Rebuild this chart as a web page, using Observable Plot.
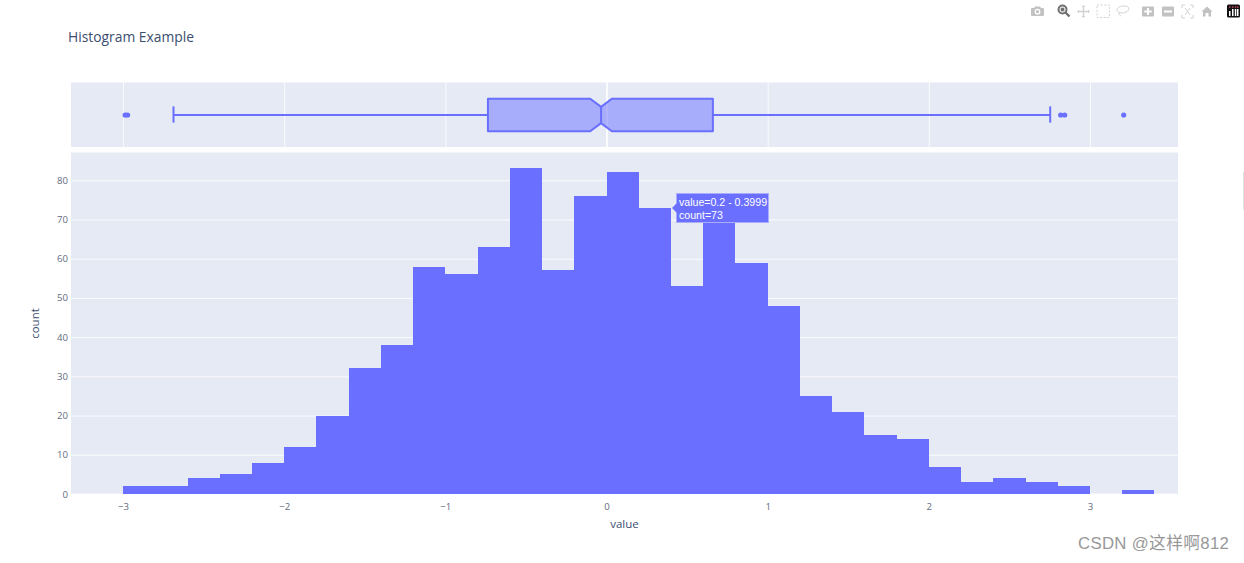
<!DOCTYPE html>
<html>
<head>
<meta charset="utf-8">
<script src="https://cdn.jsdelivr.net/npm/d3@7"></script>
<script src="https://cdn.jsdelivr.net/npm/@observablehq/plot@0.6"></script>
<style>
html,body{margin:0;padding:0;background:#fff;}
#root{position:relative;width:1244px;height:563px;overflow:hidden;font-family:"Open Sans",sans-serif;}
.title{position:absolute;left:68px;top:27px;font-size:13.85px;line-height:20px;color:#3b4e70;}
.tip{position:absolute;box-sizing:border-box;background:#6a6fff;border:1px solid #a9acff;color:#fff;font-family:"Liberation Sans",Arial,sans-serif;font-size:10.6px;line-height:13px;padding:1.5px 0 0 2px;width:93px;height:30px;white-space:pre;}
.tip:before{content:"";position:absolute;left:-5px;top:9px;border-style:solid;border-width:5px 5px 5px 0;border-color:transparent #6a6fff transparent transparent;}
.wm{position:absolute;left:1078px;top:533px;font-family:"Liberation Sans","Noto Sans CJK SC",sans-serif;font-size:16.8px;line-height:22px;color:#989898;letter-spacing:.3px;text-shadow:0 0 2px #fff;white-space:pre;}
.edge{position:absolute;left:1243px;top:172px;width:1px;height:38px;background:#e2e2e2;}
.mb{position:absolute;left:1025px;top:0;}
</style>
</head>
<body>
<div id="root"></div>
<script>
// --- data ---
const binStarts = [-3,-2.8,-2.6,-2.4,-2.2,-2,-1.8,-1.6,-1.4,-1.2,-1,-0.8,-0.6,-0.4,-0.2,0,0.2,0.4,0.6,0.8,1,1.2,1.4,1.6,1.8,2,2.2,2.4,2.6,2.8,3,3.2];
const binCounts = [2,2,4,5,8,12,20,32,38,58,56,63,83,57,76,82,73,53,74,59,48,25,21,15,14,7,3,4,3,2,0,1];
const binWidth = 0.2;
const xDomain = [-3.326, 3.543];
const yDomain = [0, 87.2];
const xTicks = [-3,-2,-1,0,1,2,3];
const yTicks = [0,10,20,30,40,50,60,70,80];
const boxQ1 = -0.739, boxMedian = -0.037, boxQ3 = 0.657;
const notchHalf = 0.067;
const whiskerLow = -2.69, whiskerHigh = 2.75;
const outliers = [-2.99,-2.975,2.815,2.84,3.206];
const boxRow = 0, boxHalf = 0.25, notchBand = 0.125, capHalf = 0.125;
const hoverBin = 0.2, hoverLabel = "value=0.2 - 0.3999\ncount=73";

const blue = "#6a6fff", panel = "#e5eaf5", font = '"Open Sans",sans-serif', tickColor = "#626c7e";
const W = 1244, marginL = 70.5, marginR = 66.5;
const root = document.getElementById("root");

// notched box outline
const outline = [
  [boxQ1, boxRow-boxHalf],[boxMedian-notchHalf, boxRow-boxHalf],[boxMedian, boxRow-notchBand],[boxMedian+notchHalf, boxRow-boxHalf],
  [boxQ3, boxRow-boxHalf],[boxQ3, boxRow+boxHalf],[boxMedian+notchHalf, boxRow+boxHalf],[boxMedian, boxRow+notchBand],
  [boxMedian-notchHalf, boxRow+boxHalf],[boxQ1, boxRow+boxHalf],[boxQ1, boxRow-boxHalf]
];

const boxPlot = Plot.plot({
  width: W, height: 65, marginTop: 0, marginBottom: 0, marginLeft: marginL, marginRight: marginR,
  style: {fontFamily: font, background: "transparent"},
  x: {domain: xDomain, axis: null},
  y: {domain: [-0.5, 0.5], axis: null},
  marks: [
    Plot.frame({fill: panel, stroke: "none"}),
    Plot.ruleX(xTicks, {stroke: "#fff", strokeOpacity: 0.8, strokeWidth: d => d === 0 ? 2 : 1}),
    Plot.ruleY([boxRow], {x1: whiskerLow, x2: boxQ1, stroke: blue, strokeWidth: 2}),
    Plot.ruleY([boxRow], {x1: boxQ3, x2: whiskerHigh, stroke: blue, strokeWidth: 2}),
    Plot.ruleX([whiskerLow, whiskerHigh], {y1: boxRow-capHalf, y2: boxRow+capHalf, stroke: blue, strokeWidth: 2}),
    Plot.line(outline, {x: d => d[0], y: d => d[1], fill: blue, fillOpacity: 0.5, stroke: blue, strokeWidth: 2, curve: "linear"}),
    Plot.ruleX([boxMedian], {y1: boxRow-notchBand, y2: boxRow+notchBand, stroke: blue, strokeWidth: 2}),
    Plot.dot(outliers, {x: d => d, y: boxRow, r: 2.6, fill: blue, stroke: "none"})
  ]
});
boxPlot.style.position = "absolute"; boxPlot.style.left = "0"; boxPlot.style.top = "82px";
root.appendChild(boxPlot);

const hist = binStarts.map((s, i) => ({x1: s, x2: s + binWidth, count: binCounts[i]}));
const main = Plot.plot({
  width: W, height: 411, marginTop: 0, marginBottom: 69, marginLeft: marginL, marginRight: marginR,
  style: {fontFamily: font, background: "transparent"},
  x: {domain: xDomain},
  y: {domain: yDomain},
  marks: [
    Plot.frame({fill: panel, stroke: "none"}),
    Plot.ruleY(yTicks, {stroke: "#fff", strokeOpacity: 0.8, strokeWidth: d => d === 0 ? 2 : 1}),
    Plot.rectY(hist, {x1: "x1", x2: "x2", y1: 0, y2: "count", fill: blue, inset: 0, shapeRendering: "crispEdges"}),
    Plot.axisX({ticks: xTicks, tickFormat: d3.format("d"), tickSize: 0, tickPadding: 9, fontSize: 9.6, color: tickColor, label: "value", labelAnchor: "center", labelArrow: "none", labelOffset: 33}),
    Plot.axisY({ticks: yTicks, tickSize: 0, tickPadding: 3, fontSize: 9.6, color: tickColor, label: "count", labelAnchor: "center", labelArrow: "none", labelOffset: 40})
  ]
});
main.style.position = "absolute"; main.style.left = "0"; main.style.top = "152px";
root.appendChild(main);

// axis titles are larger than the tick labels
main.querySelectorAll("text").forEach(t => {
  if (t.textContent === "value" || t.textContent === "count") { t.setAttribute("font-size", "11.5"); t.setAttribute("fill", "#3b4e70"); }
});

// title
const title = document.createElement("div");
title.className = "title"; title.textContent = "Histogram Example";
root.appendChild(title);

// hover label anchored to the hovered bin through the scales
const sx = main.scale("x"), sy = main.scale("y");
const hb = hist.find(d => d.x1 === hoverBin);
const tip = document.createElement("div");
tip.className = "tip"; tip.textContent = hoverLabel;
tip.style.left = (sx.apply(hb.x2) + 5) + "px";
tip.style.top = (152 + sy.apply(hb.count) - 14.5) + "px";
root.appendChild(tip);

// watermark
const wm = document.createElement("div");
wm.className = "wm"; wm.textContent = "CSDN @这样啊812";
root.appendChild(wm);
const edge = document.createElement("div"); edge.className = "edge"; root.appendChild(edge);

// modebar
const g = "#c2c2c2", gl = "#d2d2d2";
const mb = document.createElement("div"); mb.className = "mb";
mb.innerHTML = `<svg width="219" height="24" viewBox="0 0 219 24">
<g fill="${g}" stroke="none">
<path d="M7 8h2l1-1.500h5l1 1.500h2a1 1 0 0 1 1 1v6a1 1 0 0 1-1 1H7a1 1 0 0 1-1-1V9a1 1 0 0 1 1-1z M12.500 8.800a2.900 2.900 0 1 0 0 5.800a2.900 2.900 0 1 0 0-5.800z" fill-rule="evenodd"/>
<circle cx="12.500" cy="11.700" r="1.600"/>
<path d="M118 6.500h10a1 1 0 0 1 1 1v8a1 1 0 0 1-1 1h-10a1 1 0 0 1-1-1v-8a1 1 0 0 1 1-1z M122 8v2.500h-2.700v2H122v2.500h2v-2.500h2.700v-2H124V8z" fill-rule="evenodd"/>
<path d="M138 6.500h10a1 1 0 0 1 1 1v8a1 1 0 0 1-1 1h-10a1 1 0 0 1-1-1v-8a1 1 0 0 1 1-1z M139 10.500v2h8v-2z" fill-rule="evenodd"/>
<path d="M182 6.500l5.500 5h-1.500v5h-2.500v-3.500h-3v3.500H178v-5h-1.500z"/>
</g>
<g fill="${gl}" stroke="none">
<path d="M58.500 5l2 2h-1.300v3.800H63V9.500l2 2l-2 2v-1.300h-3.800V16h1.300l-2 2l-2-2h1.300v-3.800H54v1.300l-2-2l2-2v1.300h3.800V7h-1.300z"/>
</g>
<g fill="none" stroke="#707070" stroke-width="2">
<circle cx="37.500" cy="9.500" r="4"/>
<path d="M40.500 12.500l4 4" stroke-width="2.400"/>
</g>
<rect x="35.700" y="7.700" width="3.600" height="3.600" fill="#707070"/>
<g fill="none" stroke="${gl}" stroke-width="1">
<rect x="72" y="5" width="12.500" height="12.500" stroke-dasharray="2 1.600"/>
<path d="M92 10c0-2.500 3.500-4 7-4s5 1.300 5 3s-3.200 4-7 4c-1 0-2 0-2.500-.5c-1.500-.5-2.500-1.500-2.500-2.500zM94.500 12.500c-1 1.500 0 3 1.500 3.500"/>
<path d="M157 8V5h3M165 5h3v3M168 15v3h-3M160 18h-3v-3M160 8l5 7M165 8l-5 7"/>
</g>
<rect x="202" y="4.500" width="13" height="13" rx="1.500" fill="#111"/>
<g fill="#fff"><rect x="204" y="11" width="1.500" height="5"/><rect x="207" y="9" width="1.500" height="7"/><rect x="209.800" y="9" width="1.500" height="7"/><rect x="212" y="9" width="1.500" height="7"/></g>
<g fill="#e0506e"><rect x="204" y="6.500" width="1.500" height="1.200"/><rect x="207" y="6.500" width="1.500" height="1.200"/><rect x="209.800" y="6.500" width="1.500" height="1.200"/><rect x="212" y="6.500" width="1.500" height="1.200"/></g>
</svg>`;
root.appendChild(mb);
</script>
</body>
</html>
